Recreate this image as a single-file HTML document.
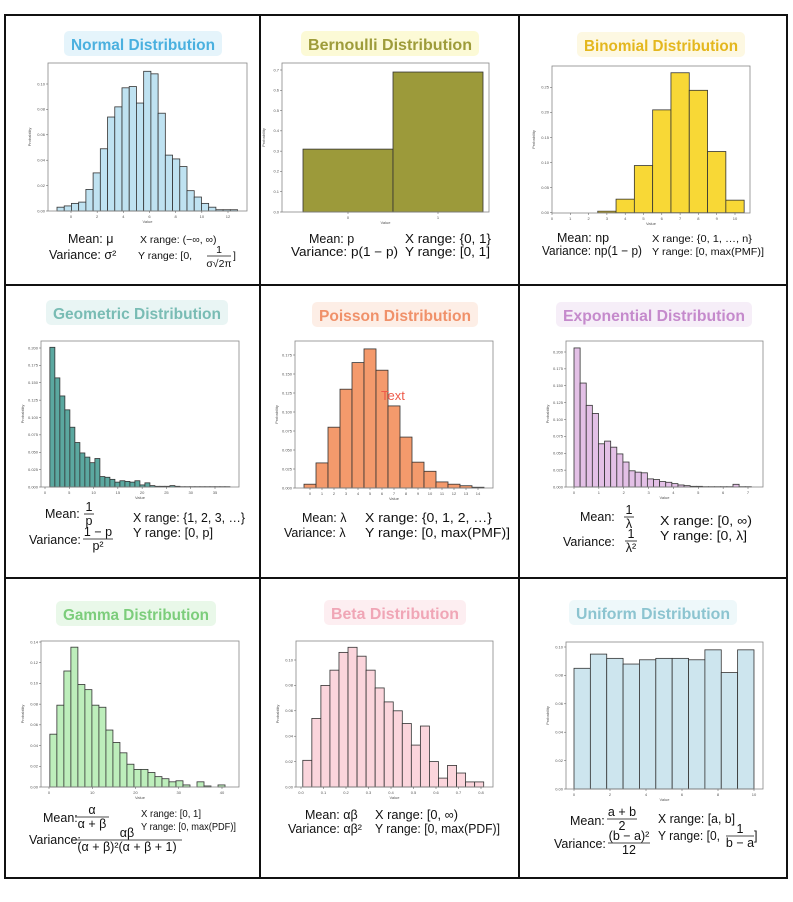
<!DOCTYPE html>
<html><head><meta charset="utf-8"><style>
body{margin:0;background:#fff}
svg text{font-family:"Liberation Sans","DejaVu Sans",sans-serif}
.t{font-family:"Liberation Sans Narrow","Liberation Sans",sans-serif;font-weight:bold;font-size:16px}
.f{font-size:12.5px;fill:#111}
.s{font-size:10.5px;fill:#111}
.tk{font-size:4px;fill:#555}
</style></head><body>
<svg id="c" width="793" height="897" viewBox="0 0 793 897" xmlns="http://www.w3.org/2000/svg">
<g stroke="#111" stroke-width="2" fill="none">
<rect x="5" y="15" width="782" height="863"/>
<line x1="260" y1="15" x2="260" y2="878"/><line x1="519" y1="15" x2="519" y2="878"/>
<line x1="5" y1="285" x2="787" y2="285"/><line x1="5" y1="578" x2="787" y2="578"/>
</g>
<g id="charts"></g>
<g id="texts"></g>
</svg>
<script>
// ---- data ----
const normalValues=[0.003,0.004,0.006,0.007,0.017,0.030,0.049,0.074,0.082,0.097,0.098,0.085,0.110,0.108,0.077,0.044,0.041,0.035,0.016,0.011,0.006,0.003,0.001,0.001,0.001];
const normalXTicks=[0,2,4,6,8,10,12];
const normalYTicks=[0,0.02,0.04,0.06,0.08,0.10];
const bernoulliCats=[0,1];
const bernoulliValues=[0.31,0.69];
const bernoulliYTicks=[0,0.1,0.2,0.3,0.4,0.5,0.6,0.7];
const binomialCats=[3,4,5,6,7,8,9,10];
const binomialValues=[0.003,0.027,0.094,0.205,0.279,0.244,0.122,0.025];
const binomialXTicks=[0,1,2,3,4,5,6,7,8,9,10];
const binomialYTicks=[0,0.05,0.10,0.15,0.20,0.25];
const geometricValues=[0.201,0.157,0.131,0.111,0.086,0.064,0.049,0.043,0.035,0.041,0.015,0.014,0.011,0.007,0.009,0.008,0.007,0.009,0.003,0.006,0.002,0.001,0.001,0.001,0.002,0.001,0.0005,0.0005,0.0005,0.0005,0.0005,0.0005,0.0005,0.0005,0.0005,0.0005];
const geometricXTicks=[0,5,10,15,20,25,30,35];
const geometricYTicks=[0,0.025,0.05,0.075,0.1,0.125,0.15,0.175,0.2];
const poissonCats=[0,1,2,3,4,5,6,7,8,9,10,11,12,13,14];
const poissonValues=[0.005,0.033,0.080,0.130,0.165,0.183,0.155,0.108,0.067,0.034,0.022,0.008,0.005,0.003,0.001];
const poissonYTicks=[0,0.025,0.05,0.075,0.1,0.125,0.15,0.175];
const exponentialValues=[0.206,0.154,0.121,0.109,0.064,0.068,0.059,0.049,0.037,0.024,0.022,0.021,0.012,0.011,0.008,0.007,0.005,0.003,0.002,0.001,0.001,0.0005,0.0005,0.0005,0.0005,0.0005,0.004,0.0005,0.0005];
const exponentialXTicks=[0,1,2,3,4,5,6,7];
const exponentialYTicks=[0,0.025,0.05,0.075,0.1,0.125,0.15,0.175,0.2];
const gammaValues=[0.051,0.079,0.112,0.135,0.099,0.094,0.079,0.077,0.055,0.043,0.033,0.022,0.017,0.017,0.014,0.010,0.008,0.005,0.006,0.002,0,0.005,0.001,0,0.002];
const gammaXTicks=[0,10,20,30,40];
const gammaYTicks=[0,0.02,0.04,0.06,0.08,0.10,0.12,0.14];
const betaValues=[0.021,0.054,0.080,0.092,0.106,0.110,0.103,0.092,0.078,0.067,0.060,0.050,0.033,0.048,0.020,0.007,0.017,0.011,0.004,0.004];
const betaXTicks=[0,0.1,0.2,0.3,0.4,0.5,0.6,0.7,0.8];
const betaYTicks=[0,0.02,0.04,0.06,0.08,0.10];
const uniformValues=[0.085,0.095,0.092,0.088,0.091,0.092,0.092,0.091,0.098,0.082,0.098];
const uniformXTicks=[0,2,4,6,8,10];
const uniformYTicks=[0,0.02,0.04,0.06,0.08,0.10];

const NS="http://www.w3.org/2000/svg";
function el(tag,attrs,parent){const e=document.createElementNS(NS,tag);for(const k in attrs)e.setAttribute(k,attrs[k]);parent.appendChild(e);return e;}
function fmt(v,d){return v.toFixed(d);}
const root=document.getElementById('charts');

function chart(name,cfg,starts,widths,values,xTicks,xLabels,yTicks,yDec,color){
  const g=el('g',{},root);
  
  
  const sx=v=>cfg.pa+(v-cfg.xa)*(cfg.pb-cfg.pa)/(cfg.xb-cfg.xa);
  const sy=v=>cfg.y0+(cfg.yp-cfg.y0)*v/cfg.yv;
  values.forEach((v,i)=>{
    const x1=sx(starts[i]),x2=sx(starts[i]+widths[i]);
    const r=el('rect',{x:x1,y:sy(v),width:x2-x1,height:Math.max(0,cfg.y0-sy(v)),fill:color,stroke:'#333','stroke-width':0.8},g);
    
    
  });
  const fr=el('rect',{x:cfg.bx0,y:cfg.by0,width:cfg.bx1-cfg.bx0,height:cfg.by1-cfg.by0,fill:'none',stroke:'#888','stroke-width':0.8},g);
  
  
  xTicks.forEach((t,i)=>{
    el('line',{x1:sx(t),x2:sx(t),y1:cfg.by1,y2:cfg.by1+2,stroke:'#555','stroke-width':0.5},g);
    const tx=el('text',{x:sx(t),y:cfg.by1+7,'text-anchor':'middle',class:'tk'},g);tx.textContent=xLabels[i];
    
    
  });
  yTicks.forEach(t=>{
    el('line',{x1:cfg.bx0-2,x2:cfg.bx0,y1:sy(t),y2:sy(t),stroke:'#555','stroke-width':0.5},g);
    const tx=el('text',{x:cfg.bx0-3,y:sy(t)+1.3,'text-anchor':'end',class:'tk'},g);tx.textContent=fmt(t,yDec);
    
    
  });
  const xl=el('text',{x:(cfg.bx0+cfg.bx1)/2,y:cfg.by1+12,'text-anchor':'middle',class:'tk'},g);xl.textContent='Value';
  
  
  const cy=(cfg.by0+cfg.by1)/2,cx=cfg.bx0-17;
  const yl=el('text',{x:cx,y:cy,'text-anchor':'middle',class:'tk',transform:`rotate(-90 ${cx} ${cy})`},g);yl.textContent='Probability';
  
  
}
function seq(n,start,w){return Array.from({length:n},(_,i)=>start+i*w);}
function fill(n,w){return Array.from({length:n},()=>w);}

chart('normal',{bx0:48,bx1:247,by0:63,by1:211,xa:0,pa:71,xb:12,pb:228,y0:211,yv:0.1,yp:84},
  seq(normalValues.length,-1.07,0.552),fill(normalValues.length,0.552),normalValues,normalXTicks,normalXTicks.map(String),normalYTicks,2,'#bfe2f1');
chart('bernoulli',{bx0:282,bx1:489,by0:63,by1:212,xa:0,pa:348,xb:1,pb:438,y0:212,yv:0.7,yp:70},
  bernoulliCats.map(c=>c-0.5),fill(2,1),bernoulliValues,bernoulliCats,bernoulliCats.map(String),bernoulliYTicks,1,'#9c9a3a');
chart('binomial',{bx0:552,bx1:750,by0:66,by1:213,xa:0,pa:552,xb:10,pb:735,y0:212.7,yv:0.25,yp:87.3},
  binomialCats.map(c=>c-0.5),fill(binomialCats.length,1),binomialValues,binomialXTicks,binomialXTicks.map(String),binomialYTicks,2,'#f8d836');
chart('geometric',{bx0:41,bx1:239,by0:341,by1:487,xa:0,pa:45,xb:35,pb:215,y0:487,yv:0.2,yp:348},
  seq(geometricValues.length,1,1.03),fill(geometricValues.length,1.03),geometricValues,geometricXTicks,geometricXTicks.map(String),geometricYTicks,3,'#5ba8a0');
chart('poisson',{bx0:295,bx1:493,by0:341,by1:488,xa:0,pa:310,xb:14,pb:478,y0:488,yv:0.175,yp:355},
  poissonCats.map(c=>c-0.5),fill(poissonCats.length,1),poissonValues,poissonCats,poissonCats.map(String),poissonYTicks,3,'#f49a6c');
chart('exponential',{bx0:566,bx1:763,by0:341,by1:487,xa:0,pa:574,xb:7,pb:748,y0:487,yv:0.2,yp:352},
  seq(exponentialValues.length,0,0.246),fill(exponentialValues.length,0.246),exponentialValues,exponentialXTicks,exponentialXTicks.map(String),exponentialYTicks,3,'#e3c0e6');
chart('gamma',{bx0:41,bx1:239,by0:641,by1:787,xa:0,pa:49,xb:40,pb:222,y0:787,yv:0.14,yp:642},
  seq(gammaValues.length,0.2,1.62),fill(gammaValues.length,1.62),gammaValues,gammaXTicks,gammaXTicks.map(String),gammaYTicks,2,'#bdeebb');
chart('beta',{bx0:296,bx1:493,by0:641,by1:787,xa:0,pa:301,xb:0.8,pb:481,y0:787,yv:0.1,yp:660},
  seq(betaValues.length,0.008,0.0402),fill(betaValues.length,0.0402),betaValues,betaXTicks,betaXTicks.map(v=>v.toFixed(1)),betaYTicks,2,'#fbd5dc');
chart('uniform',{bx0:566,bx1:763,by0:642,by1:789,xa:0,pa:574,xb:10,pb:754,y0:789,yv:0.1,yp:647},
  seq(uniformValues.length,0,0.909),fill(uniformValues.length,0.909),uniformValues,uniformXTicks,uniformXTicks.map(String),uniformYTicks,2,'#cde5ee');

const ann=el('text',{x:381,y:400,fill:'#ee5a4a','font-size':'13px'},root);ann.textContent='Text';



const T=document.getElementById('texts');
function title(name,txt,cx,cy,w,col,bg){
  const r=el('rect',{x:cx-w/2,y:cy-13,width:w,height:25,rx:5,fill:bg},T);
  
  
  const t=el('text',{x:cx,y:cy+6,'text-anchor':'middle',class:'t',fill:col,textLength:w-14,lengthAdjust:'spacingAndGlyphs'},T);t.textContent=txt;
  
  
}
title('normal','Normal Distribution',143,44,158,'#4ab0df','#e5f4fb');
title('bernoulli','Bernoulli Distribution',390,44,178,'#9e9c3a','#fcfad6');
title('binomial','Binomial Distribution',661,45,168,'#e4b71e','#fdf8e2');
title('geometric','Geometric Distribution',137,313,182,'#79bcb4','#e9f5f4');
title('poisson','Poisson Distribution',395,315,166,'#f0916a','#fdeee6');
title('exponential','Exponential Distribution',654,315,196,'#c58acc','#f6eef8');
title('gamma','Gamma Distribution',136,614,160,'#7ccd7b','#e9f8e9');
title('beta','Beta Distribution',395,613,142,'#f0a6b6','#fdeef1');
title('uniform','Uniform Distribution',653,613,168,'#8cc4d0','#eef8fa');

function txt(name,s,x,y,cls,anchor,len){
  const a={x:x,y:y,class:cls||'f','text-anchor':anchor||'start'};
  if(len){a.textLength=len;a.lengthAdjust='spacingAndGlyphs';}
  const t=el('text',a,T);t.textContent=s;
  
  
  return t;
}
function frac(name,num,den,cx,ly,cls,w){
  txt(name+'-numerator',num,cx,ly-3,cls,'middle');
  txt(name+'-denominator',den,cx,ly+11,cls,'middle');
  w=w||Math.max(num.length,den.length)*6.5;
  el('line',{x1:cx-w/2,x2:cx+w/2,y1:ly,y2:ly,stroke:'#111','stroke-width':0.8},T);
}
// Normal
txt('normal-mean','Mean: μ',68,243);
txt('normal-x-range','X range: (−∞, ∞)',140,243,'s');
txt('normal-variance','Variance: σ²',49,259);
txt('normal-y-range','Y range: [0,',138,259,'s');
frac('normal-y-max','1','σ√2π',219,256,'s',24);
txt('normal-bracket',']',233,259,'s');
// Bernoulli
txt('bernoulli-mean','Mean: p',309,243);
txt('bernoulli-x-range','X range: {0, 1}',405,243,'f','start',86);
txt('bernoulli-variance','Variance: p(1 − p)',291,256,'f','start',107);
txt('bernoulli-y-range','Y range: [0, 1]',405,256,'f','start',85);
// Binomial
txt('binomial-mean','Mean: np',557,242);
txt('binomial-x-range','X range: {0, 1, …, n}',652,242,'s','start',100);
txt('binomial-variance','Variance: np(1 − p)',542,255,'f','start',100);
txt('binomial-y-range','Y range: [0, max(PMF)]',652,255,'s','start',112);
// Geometric
txt('geometric-mean','Mean:',45,518);
frac('geometric-mean-frac','1','p',89,514,'f',10);
txt('geometric-x-range','X range: {1, 2, 3, …}',133,522,'f','start',112);
txt('geometric-y-range','Y range: [0, p]',133,537,'f','start',80);
txt('geometric-variance','Variance:',29,544);
frac('geometric-variance-frac','1 − p','p²',98,539,'f',30);
// Poisson
txt('poisson-mean','Mean: λ',302,522);
txt('poisson-x-range','X range: {0, 1, 2, …}',365,522,'f','start',127);
txt('poisson-variance','Variance: λ',284,537);
txt('poisson-y-range','Y range: [0, max(PMF)]',365,537,'f','start',145);
// Exponential
txt('exponential-mean','Mean:',580,521);
frac('exponential-mean-frac','1','λ',629,517,'f',10);
txt('exponential-x-range','X range: [0, ∞)',660,525,'f','start',92);
txt('exponential-y-range','Y range: [0, λ]',660,540,'f','start',87);
txt('exponential-variance','Variance:',563,546);
frac('exponential-variance-frac','1','λ²',631,541,'f',12);
// Gamma
txt('gamma-mean','Mean:',43,822);
frac('gamma-mean-frac','α','α + β',92,817,'f',34);
txt('gamma-x-range','X range: [0, 1]',141,817,'s','start',60);
txt('gamma-y-range','Y range: [0, max(PDF)]',141,830,'s','start',95);
txt('gamma-variance','Variance:',29,844);
frac('gamma-variance-frac','αβ','(α + β)²(α + β + 1)',127,840,'f',110);
// Beta
txt('beta-mean','Mean: αβ',305,819);
txt('beta-x-range','X range: [0, ∞)',375,819,'f','start',83);
txt('beta-variance','Variance: αβ²',288,833);
txt('beta-y-range','Y range: [0, max(PDF)]',375,833,'f','start',125);
// Uniform
txt('uniform-mean','Mean:',570,825);
frac('uniform-mean-frac','a + b','2',622,819,'f',30);
txt('uniform-x-range','X range: [a, b]',658,823,'f','start',77);
txt('uniform-variance','Variance:',554,848);
frac('uniform-variance-frac','(b − a)²','12',629,843,'f',42);
txt('uniform-y-range','Y range: [0,',658,840,'f','start',62);
frac('uniform-y-max','1','b − a',740,836,'f',28);
txt('uniform-bracket',']',754,840);
</script>
</body></html>
